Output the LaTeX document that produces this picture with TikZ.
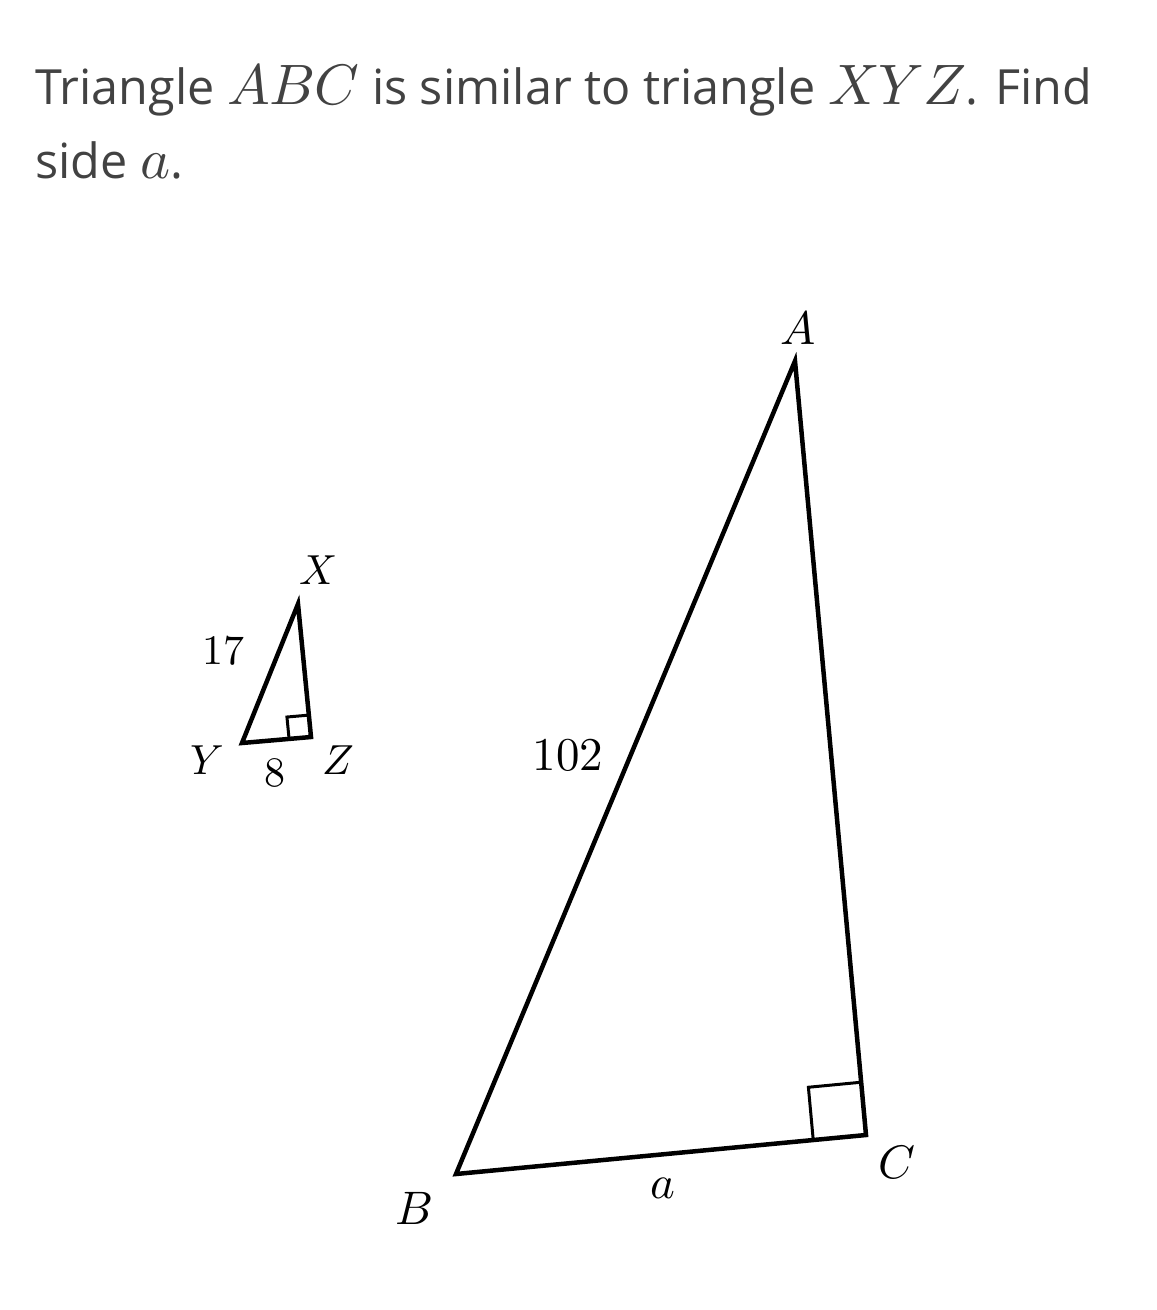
\documentclass[tikz,border=0pt]{standalone}
\usepackage{fontspec}
\usepackage{unicode-math}
\setmainfont{Open Sans}
\setmathfont{Latin Modern Math}
\usetikzlibrary{calc}
\definecolor{txt}{RGB}{66,66,66}
\newcommand{\titlemath}[1]{{\fontsize{57}{57}\selectfont$#1$}}
\begin{document}
\begin{tikzpicture}[x=1pt,y=-1pt,
  tri/.style={line width=4.5pt,line join=miter},
  sq/.style={line width=3pt},
  biglab/.style={font=\fontsize{47}{50}\selectfont,inner sep=0pt},
  smalllab/.style={font=\fontsize{42}{45}\selectfont,inner sep=0pt},
  title/.style={font=\fontsize{48.5}{73}\selectfont,text=txt,anchor=base west,inner sep=0pt}]
\useasboundingbox (0,0) rectangle (1157,1310);
\fill[white] (0,0) rectangle (1157,1310);
% title
\node[title] (t1) at (35,104) {Triangle \titlemath{ABC} is similar to triangle \titlemath{XYZ}. Find};
\node[title] (t2) at (35,178) {side \titlemath{a}.};
% small triangle
\coordinate (X) at (298,604);
\coordinate (Y) at (242,743);
\coordinate (Z) at (311,737);
\draw[tri] (X) -- (Y) -- (Z) -- cycle;
\coordinate (z1) at ($(Z)!22pt!(Y)$);
\coordinate (z2) at ($(Z)!22pt!(X)$);
\draw[sq] (z1) -- ($(z1)+(z2)-(Z)$) -- (z2);
\node[smalllab] (lX) at (318,570) {$X$};
\node[smalllab] (lY) at (207,760) {$Y$};
\node[smalllab] (lZ) at (338,760) {$Z$};
\node[smalllab] (l17) at (224,651) {$17$};
\node[smalllab] (l8) at (275,773) {$8$};
% large triangle
\coordinate (A) at (795,361);
\coordinate (B) at (456,1174);
\coordinate (C) at (866,1135);
\draw[tri] (A) -- (B) -- (C) -- cycle;
\coordinate (c1) at ($(C)!53pt!(B)$);
\coordinate (c2) at ($(C)!53pt!(A)$);
\draw[sq] (c1) -- ($(c1)+(c2)-(C)$) -- (c2);
\node[biglab] (lA) at (798,328) {$A$};
\node[biglab] (lB) at (414,1208) {$B$};
\node[biglab] (lC) at (897,1162) {$C$};
\node[biglab] (la) at (663,1188) {$a$};
\node[biglab] (l102) at (568,755) {$102$};
\end{tikzpicture}
\end{document}
